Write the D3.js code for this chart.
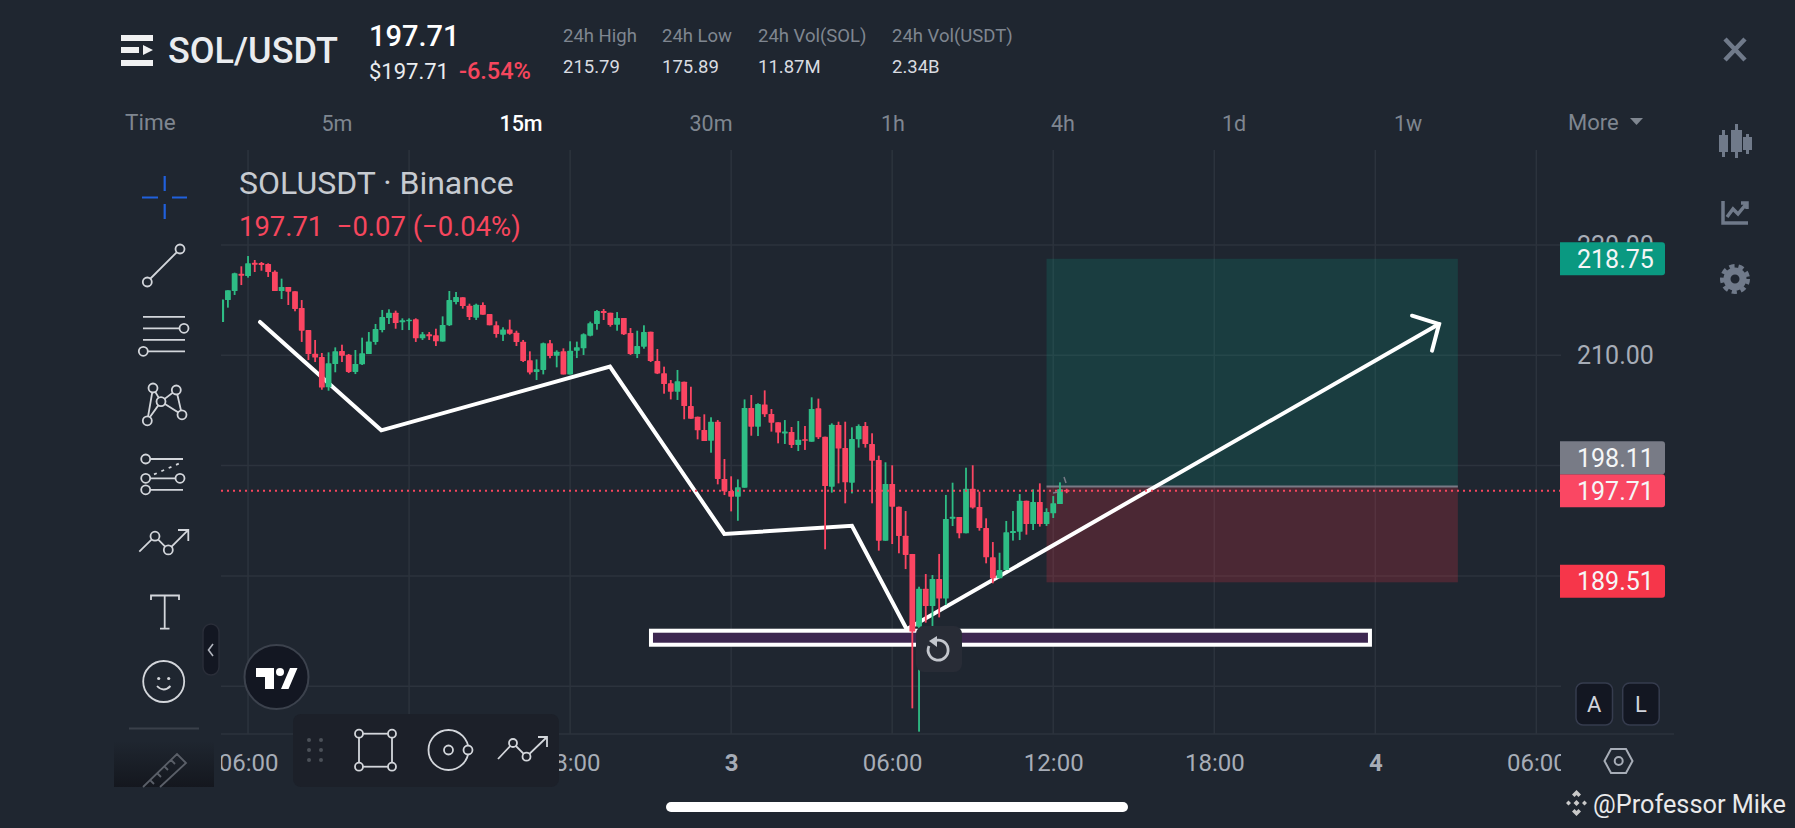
<!DOCTYPE html>
<html lang="en">
<head>
<meta charset="UTF-8">
<title>SOL/USDT</title>
<script src="https://cdnjs.cloudflare.com/ajax/libs/d3/7.8.2/d3.min.js"></script>
<style>
    body { margin: 0; background: #1f2630; overflow: hidden; }
    svg { display: block; font-family: Roboto, Arial, sans-serif; }
    .domain { display: none; }
</style>
</head>
<body>
<svg id="chart" width="1795" height="828"></svg>
<script>
// 15m candles. index 0 = 05:00
const opens = [213.02,215.01,215.83,217.40,217.19,218.40,218.37,218.28,217.58,215.83,216.19,215.80,214.29,212.29,210.15,209.85,207.10,209.21,210.39,210.06,208.49,209.18,210.12,211.21,212.29,213.38,213.86,212.99,213.11,213.26,211.54,211.90,211.81,211.24,212.72,214.83,215.26,214.50,213.41,214.56,213.74,212.72,211.87,212.35,212.05,211.23,209.54,208.49,208.67,211.10,209.97,210.36,208.27,210.42,210.63,211.78,212.84,214.01,213.86,212.78,213.38,212.02,210.12,210.78,212.14,209.48,208.37,207.46,206.70,207.61,205.40,204.44,203.23,202.26,203.98,198.79,197.70,197.18,198.00,205.22,203.53,205.55,204.68,203.92,202.92,203.05,201.87,202.38,202.17,205.19,202.62,198.09,203.68,201.60,198.45,202.38,203.59,201.96,200.51,193.19,198.33,196.28,193.65,191.99,185.40,188.84,187.27,189.72,187.94,195.19,195.34,193.86,197.91,196.25,194.34,191.68,189.78,190.53,193.89,194.01,196.82,194.70,196.70,194.70,195.67,196.52,197.78];
const highs = [215.07,215.89,217.49,218.07,219.00,218.64,218.46,218.34,217.70,216.95,216.19,215.80,215.01,212.29,211.39,210.21,210.27,210.72,210.96,210.12,210.48,211.60,212.11,212.84,214.11,214.17,214.05,213.35,213.35,213.35,212.11,212.11,212.41,213.53,215.83,215.74,215.26,214.68,214.68,214.80,213.74,213.08,212.54,213.23,212.23,211.39,210.36,209.63,211.15,211.39,210.45,210.63,211.27,211.24,211.99,213.05,214.10,214.20,213.86,213.92,213.38,212.47,212.23,212.72,212.14,210.57,208.97,207.76,208.67,207.61,207.15,204.44,204.65,204.38,204.13,200.60,199.03,198.75,206.00,206.40,205.65,206.82,205.13,203.92,204.13,203.50,204.04,203.59,206.19,206.07,202.62,203.83,203.98,203.98,203.47,203.74,203.95,202.93,200.90,200.30,200.03,196.28,195.88,191.99,189.02,190.17,190.08,191.99,197.34,198.45,195.34,199.81,200.03,197.64,195.22,193.07,192.10,194.98,195.88,197.42,196.82,197.85,198.39,196.13,197.24,198.48,197.90];
const lows = [213.02,214.32,215.47,216.37,217.04,217.55,217.67,217.10,215.83,215.10,214.56,213.99,211.21,209.57,209.39,206.88,206.79,208.46,209.39,208.40,208.30,209.12,210.12,210.96,212.08,212.84,212.41,212.29,212.29,211.21,211.39,211.39,210.84,211.24,212.66,214.62,214.23,213.20,213.20,213.68,212.72,211.60,211.30,211.87,210.84,209.39,208.27,207.76,208.27,209.73,208.91,208.27,208.27,209.75,210.03,211.72,212.32,213.20,212.60,212.23,211.84,210.03,209.75,210.60,209.39,208.30,206.52,206.00,205.95,204.20,204.25,202.38,202.23,201.17,198.30,197.33,195.85,195.00,198.00,202.71,202.68,204.41,203.08,202.02,201.96,201.60,201.32,201.42,202.17,202.41,192.41,197.55,198.39,196.58,197.48,201.63,201.63,196.58,192.29,193.19,192.89,192.05,190.62,177.99,175.88,185.76,185.46,186.24,187.36,194.52,193.41,193.86,196.10,194.10,191.14,189.33,189.78,190.53,193.20,193.25,193.74,194.16,194.47,194.53,195.25,196.52,197.50];
const closes = [215.07,215.89,217.43,217.22,218.34,218.22,218.19,217.55,215.83,216.19,215.77,214.20,212.23,210.12,209.79,207.07,209.27,210.36,209.97,208.49,209.21,210.18,211.24,212.38,213.47,213.86,212.93,213.17,213.23,211.54,211.90,211.72,211.27,212.75,215.01,215.29,214.47,213.47,214.59,213.68,212.72,211.93,212.35,211.96,211.20,209.48,208.45,208.73,211.10,209.94,210.33,208.27,210.42,210.72,211.90,212.90,214.01,213.83,212.75,213.38,211.90,210.12,210.84,212.11,209.48,208.36,207.40,206.70,207.64,205.40,204.25,203.20,202.23,203.98,198.79,197.67,197.18,198.03,205.22,203.53,205.58,204.65,203.89,203.00,203.10,201.87,202.35,202.26,205.13,202.56,198.15,203.71,201.54,198.48,202.41,203.59,201.96,200.45,193.19,198.33,196.28,193.62,191.90,184.95,188.84,187.27,189.72,187.94,195.16,195.37,193.86,197.91,196.19,194.34,191.68,189.78,190.53,193.95,194.07,196.82,194.70,196.70,194.70,195.80,196.58,197.85,197.71];

const xTicks = [4, 28, 52, 76, 100, 124, 148, 172, 196];
const xTickLabels = ["06:00", "12:00", "18:00", "3", "06:00", "12:00", "18:00", "4", "06:00"];
const yTicks = [220, 210, 200, 190, 180];
const yLabelTicks = [220, 210];

const lastPrice = 197.71;
const entryPrice = 198.11, targetPrice = 218.75, stopPrice = 189.51;
const positionFrom = 123, positionTo = 184.3;
const badgePrices = [targetPrice, entryPrice, lastPrice, stopPrice];
const badgeColors = ["#0a9981", "#787b86", "#fa4763", "#f6364a"];

// hand drawn shapes, [candle index, price]
const pathLine = [[5.78,213.02],[23.86,203.2],[57.94,208.97],[74.98,193.8],[94,194.55],[102.16,185.16],[181.5,212.84]];
const arrowHead = [[177.47,213.59],[181.5,212.84],[180.45,210.42]];
const zoneBox = [64.05, 171.2, 185.03, 183.76];

const periods = ["5m", "15m", "30m", "1h", "4h", "1d", "1w"];
const periodX = [337, 521, 711, 893, 1063, 1234, 1408];
const statLabels = ["24h High", "24h Low", "24h Vol(SOL)", "24h Vol(USDT)"];
const statValues = ["215.79", "175.89", "11.87M", "2.34B"];
const statX = [563, 662, 758, 892];

const svg = d3.select("#chart");
const gridColor = "#2c333d", mutedText = "#7f8690", axisText = "#a7adb7";
const upColor = "#2ebd85", downColor = "#fb4562";

const x = d3.scaleLinear().domain([0, 24]).range([221.2, 382.24]);
const y = d3.scaleLinear().domain([180, 220]).range([686.2, 245]);
const line = d3.line().x(d => x(d[0])).y(d => y(d[1]));

const defs = svg.append("defs");
defs.append("clipPath").attr("id", "pane").append("rect")
    .attr("x", 222).attr("y", 150).attr("width", 1339).attr("height", 584);
defs.append("clipPath").attr("id", "timeClip").append("rect")
    .attr("x", 221).attr("y", 735).attr("width", 1340).attr("height", 60);
const fade = defs.append("linearGradient").attr("id", "rulerFade").attr("x2", 0).attr("y2", 1);
fade.append("stop").attr("offset", 0).attr("stop-color", "#1f2630");
fade.append("stop").attr("offset", 1).attr("stop-color", "#14171e");

// grid
const grid = svg.append("g").attr("stroke", gridColor).attr("stroke-width", 1.5);
grid.selectAll(".v").data(xTicks).join("line").attr("class", "v")
    .attr("x1", d => x(d)).attr("x2", d => x(d)).attr("y1", 150).attr("y2", 734);
grid.selectAll(".h").data(yTicks).join("line").attr("class", "h")
    .attr("x1", 221).attr("x2", 1561).attr("y1", d => y(d)).attr("y2", d => y(d));
svg.append("line").attr("x1", 221).attr("x2", 1674).attr("y1", 734).attr("y2", 734)
    .attr("stroke", gridColor).attr("stroke-width", 1.5);

// long position box
svg.append("rect").attr("x", x(positionFrom)).attr("width", x(positionTo) - x(positionFrom))
    .attr("y", y(targetPrice)).attr("height", y(entryPrice) - y(targetPrice))
    .attr("fill", "#089981").attr("fill-opacity", 0.2);
svg.append("rect").attr("x", x(positionFrom)).attr("width", x(positionTo) - x(positionFrom))
    .attr("y", y(entryPrice)).attr("height", y(stopPrice) - y(entryPrice) + 1)
    .attr("fill", "#f23645").attr("fill-opacity", 0.21);
svg.append("line").attr("x1", x(positionFrom)).attr("x2", x(positionTo))
    .attr("y1", y(entryPrice)).attr("y2", y(entryPrice))
    .attr("stroke", "#787b86").attr("stroke-width", 2);

// drawings sit under the candles
svg.append("rect")
    .attr("x", x(zoneBox[0])).attr("width", x(zoneBox[1]) - x(zoneBox[0]))
    .attr("y", y(zoneBox[2])).attr("height", y(zoneBox[3]) - y(zoneBox[2]))
    .attr("fill", "#3d2750").attr("stroke", "#fff").attr("stroke-width", 4);
svg.append("path").attr("d", line(pathLine))
    .attr("fill", "none").attr("stroke", "#fff").attr("stroke-width", 4).attr("stroke-linecap", "round");
svg.append("path").attr("d", line(arrowHead))
    .attr("fill", "none").attr("stroke", "#fff").attr("stroke-width", 4).attr("stroke-linecap", "round");

// candles
const candles = svg.append("g").attr("clip-path", "url(#pane)")
    .selectAll("g").data(d3.range(opens.length)).join("g")
    .attr("fill", i => closes[i] >= opens[i] ? upColor : downColor)
    .attr("stroke", "none");
candles.append("rect").attr("x", i => x(i) - 0.9).attr("width", 1.8)
    .attr("y", i => y(highs[i])).attr("height", i => y(lows[i]) - y(highs[i]));
candles.append("rect").attr("x", i => x(i) - 2.9).attr("width", 5.8).attr("rx", 0.6)
    .attr("y", i => y(Math.max(opens[i], closes[i])))
    .attr("height", i => Math.max(1.5, Math.abs(y(opens[i]) - y(closes[i]))));

// last price line
svg.append("line").attr("x1", 221).attr("x2", 1560).attr("y1", y(lastPrice)).attr("y2", y(lastPrice))
    .attr("stroke", "#f6465d").attr("stroke-width", 2).attr("stroke-dasharray", "2 4");

// small grey marks at the chart tip
svg.append("path").attr("d", "M1064 477 L1066 483 M1053 493 L1058 492")
    .attr("stroke", "#787b86").attr("stroke-width", 1.5).attr("fill", "none");

// time axis
const timeAxis = d3.axisBottom(x).tickValues(xTicks)
    .tickFormat((d, i) => xTickLabels[i]).tickSize(0).tickPadding(0);
const timeG = svg.append("g").attr("clip-path", "url(#timeClip)")
    .append("g").attr("transform", "translate(0,771)").call(timeAxis);
timeG.selectAll("text").attr("font-family", "Roboto").attr("font-size", 24).attr("fill", axisText)
    .attr("font-weight", (d, i) => /:/.test(xTickLabels[i]) ? 400 : 700).attr("y", 0).attr("dy", 0);

// price axis
const priceG = svg.append("g").attr("transform", "translate(1577,0)")
    .call(d3.axisRight(y).tickValues(yLabelTicks).tickFormat(d3.format(".2f")).tickSize(0).tickPadding(0));
priceG.selectAll("text").attr("font-family", "Roboto").attr("font-size", 25).attr("fill", axisText);

// price badges, pushed up when they would overlap
const badgeH = 33;
const badgeRows = badgePrices.map((p, i) => ({ price: p, color: badgeColors[i], cy: y(p) }))
    .sort((a, b) => b.cy - a.cy);
badgeRows.forEach((d, i) => {
    if (i > 0 && badgeRows[i - 1].cy - d.cy < badgeH) d.cy = badgeRows[i - 1].cy - badgeH;
});
const badges = svg.append("g").selectAll("g").data(badgeRows).join("g")
    .attr("transform", d => `translate(1560,${d.cy})`);
badges.append("path")
    .attr("d", `M0 ${-badgeH / 2} H102 q3 0 3 3 V${badgeH / 2 - 3} q0 3 -3 3 H0 Z`)
    .attr("fill", d => d.color);
badges.append("text").attr("x", 17).attr("dy", "0.36em").attr("font-size", 25).attr("fill", "#f5f6f7")
    .text(d => d.price.toFixed(2));

// header
const text = (t, tx, ty, size, fill, weight, anchor) => svg.append("text").text(t)
    .attr("x", tx).attr("y", ty).attr("font-size", size).attr("fill", fill)
    .attr("font-weight", weight || 400).attr("text-anchor", anchor || "start");

svg.append("path").attr("fill", "#f0f1f2")
    .attr("d", "M121 35 H153 V41 H121 Z M121 47 H139 V53 H121 Z M143 45 L153 50 L143 55 Z M121 60 H153 V66 H121 Z");
text("SOL/USDT", 168, 63, 36, "#eaecef", 500);
text("197.71", 369, 46, 29, "#fff", 500);
text("$197.71", 369, 79, 22, "#eaecef");
text("-6.54%", 459, 79, 23.5, "#f6465d", 500);
statLabels.forEach((t, i) => text(t, statX[i], 42, 18.5, mutedText));
statValues.forEach((t, i) => text(t, statX[i], 73, 18.5, "#d9dce1"));
svg.append("path").attr("d", "M1725 39 L1745 60 M1745 39 L1725 60")
    .attr("stroke", "#707a8a").attr("stroke-width", 4.5).attr("fill", "none");

text("Time", 125, 130, 22.5, mutedText);
periods.forEach((t, i) => text(t, periodX[i], 131, 21.5, t === "15m" ? "#fff" : mutedText, t === "15m" ? 500 : 400, "middle"));
text("More", 1568, 130, 22, mutedText);
svg.append("path").attr("d", "M1630 118 H1643 L1636.5 125 Z").attr("fill", mutedText);

text("SOLUSDT · Binance", 239, 194, 32, "#c7cbd1");
text("197.71\u00a0\u00a0−0.07 (−0.04%)", 239, 236, 27.4, "#f6465d");

// right side icons
const icon = "#707a8a";
svg.append("path").attr("fill", icon).attr("d",
    "M1722 130 h3 v5 h3 v17 h-3 v5 h-3 v-5 h-3 v-17 h3 Z M1735 124 h3 v6 h4 v22 h-4 v6 h-3 v-6 h-4 v-22 h4 Z M1746 134 h3 v3 h3 v13 h-3 v4 h-3 v-4 h-3 v-13 h3 Z");
svg.append("path").attr("d", "M1723 201 V223 H1748 M1727 217 L1733 209 L1738 214 L1747 203 M1741 203 H1747 V209")
    .attr("fill", "none").attr("stroke", icon).attr("stroke-width", 3.5);
svg.append("circle").attr("cx", 1735).attr("cy", 279).attr("r", 8).attr("fill", "none").attr("stroke", icon).attr("stroke-width", 7);
svg.append("circle").attr("cx", 1735).attr("cy", 279).attr("r", 13).attr("fill", "none").attr("stroke", icon)
    .attr("stroke-width", 4).attr("stroke-dasharray", "5.2 4");

// left tools
const tool = svg.append("g").attr("fill", "none").attr("stroke", "#d3d6db").attr("stroke-width", 1.8);
const ring = (g, cx, cy, r) => g.append("circle").attr("cx", cx).attr("cy", cy).attr("r", r || 4.5).attr("fill", "#1f2630");
svg.append("path").attr("d", "M142 197.5 H158 M172 197.5 H187 M164.7 176 V191 M164.7 204 V219")
    .attr("stroke", "#2060dc").attr("stroke-width", 2.2).attr("fill", "none");
tool.append("path").attr("d", "M147 282 L180 249");
ring(tool, 147.3, 282); ring(tool, 180, 249);
tool.append("path").attr("d", "M143 316.8 H185 M143 328.3 H185 M143 339.8 H185 M143 351.3 H185");
ring(tool, 184, 328.3); ring(tool, 143.3, 351.3);
tool.append("path").attr("d", "M153 388 L147.3 420.8 L161 401.6 L153 388 M161 401.6 L176.3 390 L182 414.8 L161 401.6");
[[153, 388], [176.3, 390], [161, 401.6], [147.3, 420.8], [182, 414.8]].forEach(p => ring(tool, p[0], p[1]));
tool.append("path").attr("d", "M146 459 H183 M146 478.3 H180 M146 489.8 H183");
tool.append("path").attr("d", "M154 474.4 L179.3 463.4").attr("stroke-dasharray", "3 5");
[[145.7, 459], [145.7, 478.3], [180, 478.3], [145.7, 489.8]].forEach(p => ring(tool, p[0], p[1]));
tool.append("path").attr("d", "M139.3 551.6 L155 536.2 L168.3 549.9 L188.3 529.8 M178 530 H188.3 V541");
ring(tool, 155, 536.2); ring(tool, 168.3, 549.9);
tool.append("path").attr("d", "M151 600 V595.5 H179 V600 M164.7 595.5 V628.7 M160 628.7 H169.5");
tool.append("circle").attr("cx", 163.7).attr("cy", 681.5).attr("r", 20.5);
tool.append("path").attr("d", "M157 686 Q163.7 693 170.5 686");
svg.append("circle").attr("cx", 158.7).attr("cy", 678.5).attr("r", 1.6).attr("fill", "#d3d6db");
svg.append("circle").attr("cx", 168.7).attr("cy", 678.5).attr("r", 1.6).attr("fill", "#d3d6db");
svg.append("line").attr("x1", 129).attr("x2", 199).attr("y1", 728.4).attr("y2", 728.4).attr("stroke", "#3a404a").attr("stroke-width", 2);
svg.append("rect").attr("x", 114).attr("y", 741).attr("width", 100).attr("height", 46).attr("fill", "url(#rulerFade)");
svg.append("path").attr("d", "M143 787 L177 754 L186 763 L160 787 M150 780 L154 784 M157 773 L161 777 M164 766 L168 770 M171 760 L175 764")
    .attr("fill", "none").attr("stroke", "#5a5f68").attr("stroke-width", 1.8);

// collapse pill
svg.append("rect").attr("x", 203).attr("y", 624).attr("width", 16).attr("height", 51).attr("rx", 8)
    .attr("fill", "#131722").attr("stroke", "#2a2e39").attr("stroke-width", 1.5);
svg.append("path").attr("d", "M213 644 L208.5 650 L213 656").attr("fill", "none").attr("stroke", "#b2b5be").attr("stroke-width", 1.6);

// tradingview badge
svg.append("circle").attr("cx", 276.5).attr("cy", 677).attr("r", 32).attr("fill", "#131722").attr("stroke", "#3c424d").attr("stroke-width", 2);
svg.append("path").attr("fill", "#fff").attr("d", "M256 668 H274 V689 H265 V677 H256 Z M290 668 H297.5 L288.5 689 H281 Z");
svg.append("circle").attr("cx", 280).attr("cy", 672).attr("r", 4).attr("fill", "#fff");

// drawing toolbar
svg.append("rect").attr("x", 293).attr("y", 714).attr("width", 266).attr("height", 73).attr("rx", 8).attr("fill", "#1c2029");
svg.append("g").attr("fill", "#4b5058").selectAll("circle")
    .data([[309, 740], [321, 740], [309, 750], [321, 750], [309, 760], [321, 760]]).join("circle")
    .attr("cx", d => d[0]).attr("cy", d => d[1]).attr("r", 2);
const barTool = svg.append("g").attr("fill", "none").attr("stroke", "#d3d6db").attr("stroke-width", 1.8);
barTool.append("rect").attr("x", 359).attr("y", 733.7).attr("width", 33).attr("height", 33);
[[359, 733.7], [392, 733.7], [359, 766.7], [392, 766.7]].forEach(p => barTool.append("circle").attr("cx", p[0]).attr("cy", p[1]).attr("r", 4).attr("fill", "#1c2029"));
barTool.append("circle").attr("cx", 448.5).attr("cy", 750).attr("r", 20);
barTool.append("circle").attr("cx", 448.5).attr("cy", 750).attr("r", 4.5);
barTool.append("circle").attr("cx", 468).attr("cy", 750).attr("r", 4.5).attr("fill", "#1c2029");
barTool.append("path").attr("d", "M498 759 L513 743 L526.5 756.7 L547 737 M538 737 H547 V747");
barTool.append("circle").attr("cx", 513).attr("cy", 743).attr("r", 4).attr("fill", "#1c2029");
barTool.append("circle").attr("cx", 526.5).attr("cy", 756.7).attr("r", 4).attr("fill", "#1c2029");

// reset button
svg.append("rect").attr("x", 916).attr("y", 626).attr("width", 46).attr("height", 46).attr("rx", 8).attr("fill", "#282c36");
svg.append("path").attr("d", "M934 641 A10 10 0 1 1 929 646").attr("fill", "none").attr("stroke", "#c3c6cd").attr("stroke-width", 2.8);
svg.append("path").attr("d", "M937 636 L937 647 L929 641 Z").attr("fill", "#c3c6cd");

// A / L buttons
["A", "L"].forEach((t, i) => {
    const bx = 1576 + i * 46.7;
    svg.append("rect").attr("x", bx).attr("y", 683).attr("width", 36.5).attr("height", 42).attr("rx", 7)
        .attr("fill", "#131722").attr("stroke", "#363c4e").attr("stroke-width", 1.5);
    text(t, bx + 18.2, 712, 22, "#d1d4dc", 400, "middle");
});
svg.append("path").attr("d", "M1604.5 761 L1611 749 H1626 L1632.5 761 L1626 773 H1611 Z").attr("fill", "none").attr("stroke", axisText).attr("stroke-width", 2);
svg.append("circle").attr("cx", 1618.7).attr("cy", 761).attr("r", 4).attr("fill", "none").attr("stroke", axisText).attr("stroke-width", 2);

// home bar and watermark
svg.append("rect").attr("x", 666).attr("y", 802).attr("width", 462).attr("height", 10).attr("rx", 5).attr("fill", "#fff");
svg.append("path").attr("fill", "#c9c9c9").attr("d",
    "M1576.5 790 L1581 794.5 L1578.5 797 L1576.5 795 L1574.5 797 L1572 794.5 Z M1566 803 L1568.5 800.5 L1571 803 L1568.5 805.5 Z M1582 803 L1584.5 800.5 L1587 803 L1584.5 805.5 Z M1576.5 800 L1579.5 803 L1576.5 806 L1573.5 803 Z M1576.5 816 L1572 811.5 L1574.5 809 L1576.5 811 L1578.5 809 L1581 811.5 Z");
text("@Professor Mike", 1593, 813, 26, "#e9e9ea")
    .attr("textLength", 193).attr("lengthAdjust", "spacingAndGlyphs");
</script>
</body>
</html>
